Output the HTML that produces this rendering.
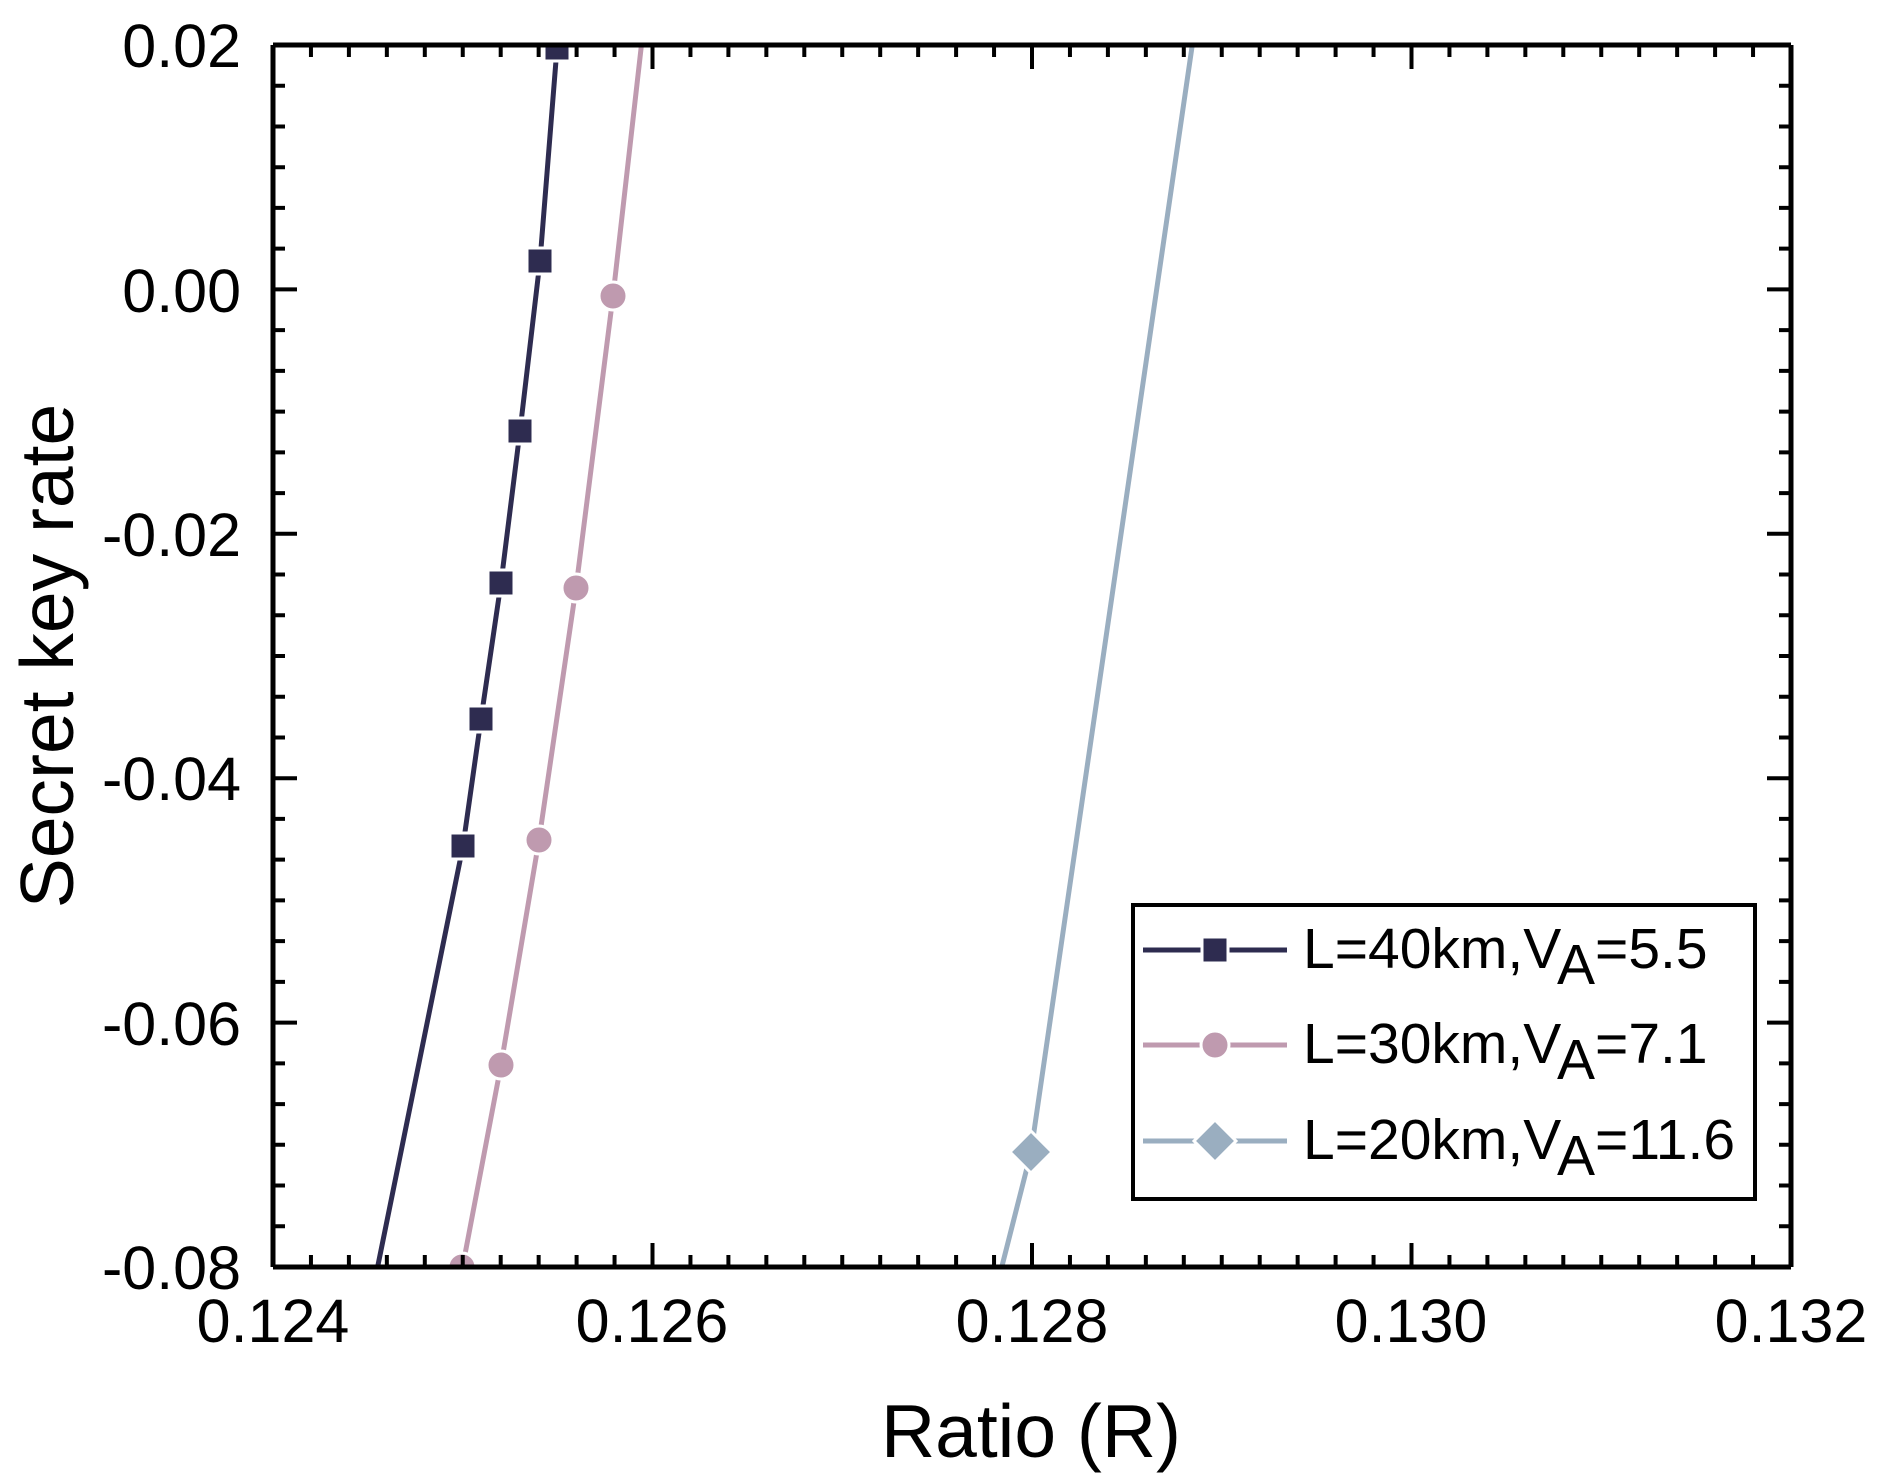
<!DOCTYPE html>
<html><head><meta charset="utf-8"><style>
html,body{margin:0;padding:0;background:#fff;}
svg{display:block;}
text{font-family:"Liberation Sans",Arial,sans-serif;fill:#000;}
</style></head><body>
<svg width="1878" height="1482" viewBox="0 0 1878 1482" xmlns="http://www.w3.org/2000/svg">
<defs><clipPath id="c"><rect x="273" y="45" width="1518" height="1222"/></clipPath></defs>
<g clip-path="url(#c)" fill="none" stroke-width="5" stroke-linejoin="round">
<polyline stroke="#2e2c50" points="559,40 557,48 540,261 520,431 501,583 481,719 463,846 377,1270"/>
<polyline stroke="#bf9aaf" points="642,40 613,296 576,588 539,840 501,1065 462,1270"/>
<polyline stroke="#9aaec0" points="1193,40 1031,1152 1001,1270"/>
</g>
<g clip-path="url(#c)">
<g fill="#2e2c50" stroke="#fff" stroke-width="3">
<rect x="544" y="35" width="26" height="26"/><rect x="527" y="248" width="26" height="26"/><rect x="507" y="418" width="26" height="26"/><rect x="488" y="570" width="26" height="26"/><rect x="468" y="706" width="26" height="26"/><rect x="450" y="833" width="26" height="26"/>
</g>
<g fill="#bf9aaf" stroke="#fff" stroke-width="3">
<circle cx="613" cy="296" r="14"/><circle cx="576" cy="588" r="14"/><circle cx="539" cy="840" r="14"/><circle cx="501" cy="1065" r="14"/><circle cx="462" cy="1267" r="14"/>
</g>
<polygon fill="#9aaec0" stroke="#fff" stroke-width="3" points="1031,1131 1052,1152 1031,1173 1010,1152"/>
</g>
<g stroke="#000" stroke-width="5" fill="none">
<path d="M273,1267h1518M273,45h1518M273,45v1222M1791,45v1222"/>
</g>
<g id="ticks" stroke="#000" stroke-width="4"></g>
<script>
(function(){var g=document.getElementById('ticks');var d='';
for(var i=0;i<=40;i++){var x=273+i*1518/40;var L=(i%10==0)?24:12;d+='M'+x+',1267v-'+L+'M'+x+',45v'+L;}
for(var j=0;j<=30;j++){var y=45+j*1222/30;var L=(j%6==0)?24:12;d+='M273,'+y+'h'+L+'M1791,'+y+'h-'+L;}
var p=document.createElementNS('http://www.w3.org/2000/svg','path');p.setAttribute('d',d);g.appendChild(p);})();
</script>
<g font-size="61" text-anchor="end">
<text x="241" y="67">0.02</text>
<text x="241" y="312">0.00</text>
<text x="241" y="556">-0.02</text>
<text x="241" y="800">-0.04</text>
<text x="241" y="1045">-0.06</text>
<text x="241" y="1289">-0.08</text>
</g>
<g font-size="61" text-anchor="middle">
<text x="273" y="1342">0.124</text>
<text x="652" y="1342">0.126</text>
<text x="1032" y="1342">0.128</text>
<text x="1411" y="1342">0.130</text>
<text x="1791" y="1342">0.132</text>
</g>
<text x="1031" y="1457" font-size="75" text-anchor="middle">Ratio (R)</text>
<text transform="translate(73,656) rotate(-90)" font-size="75" text-anchor="middle">Secret key rate</text>
<rect x="1133" y="905" width="622" height="294" fill="#fff" stroke="#000" stroke-width="4"/>
<g stroke-width="5">
<line x1="1143" y1="950" x2="1287" y2="950" stroke="#2e2c50"/>
<rect x="1202" y="937" width="26" height="26" fill="#2e2c50" stroke="#fff" stroke-width="3"/>
<line x1="1143" y1="1045" x2="1287" y2="1045" stroke="#bf9aaf"/>
<circle cx="1215" cy="1045" r="14" fill="#bf9aaf" stroke="#fff" stroke-width="3"/>
<line x1="1143" y1="1141" x2="1287" y2="1141" stroke="#9aaec0"/>
<polygon points="1215,1120 1236,1141 1215,1162 1194,1141" fill="#9aaec0" stroke="#fff" stroke-width="3"/>
</g>
<g font-size="57">
<text x="1303" y="968">L=40km,V<tspan dy="16">A</tspan><tspan dy="-16">=5.5</tspan></text>
<text x="1303" y="1063">L=30km,V<tspan dy="16">A</tspan><tspan dy="-16">=7.1</tspan></text>
<text x="1303" y="1159">L=20km,V<tspan dy="16">A</tspan><tspan dy="-16">=11.6</tspan></text>
</g>
</svg>
</body></html>
